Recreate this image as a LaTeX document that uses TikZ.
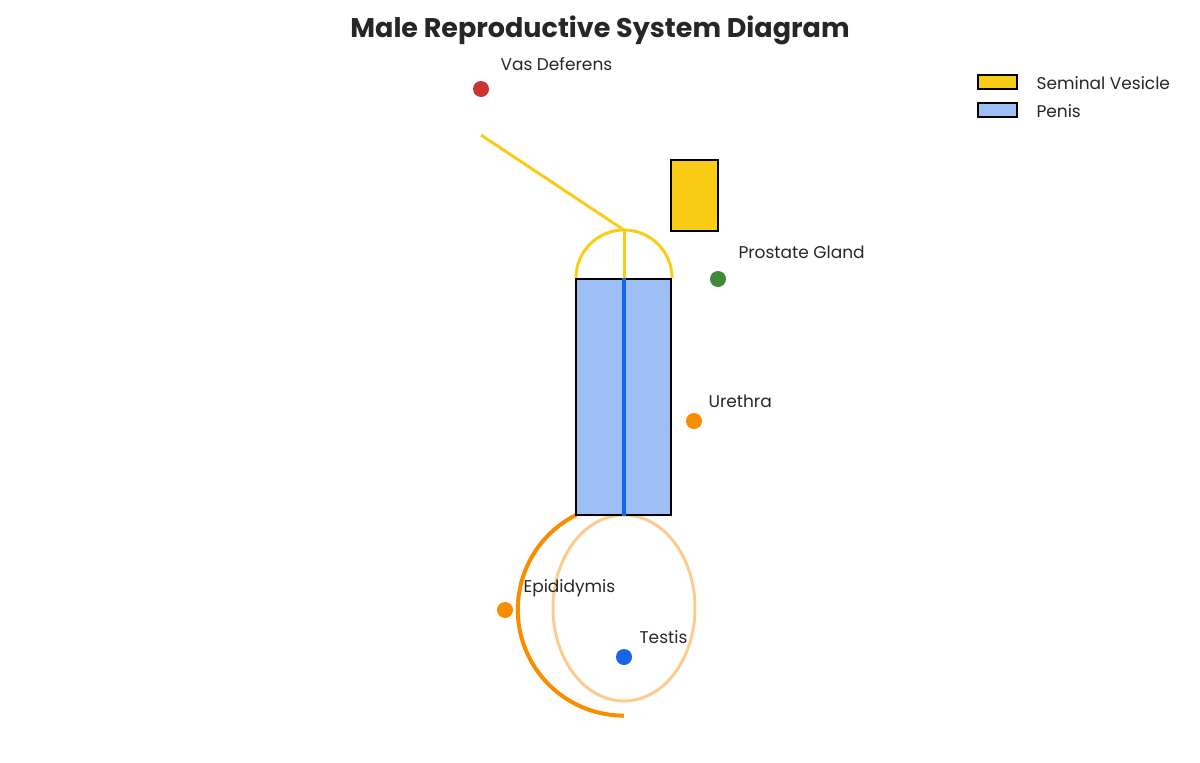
\documentclass[tikz,border=0pt]{standalone}
\usetikzlibrary{shapes.geometric}
\usepackage{fontspec}
\setmainfont{Poppins}
\begin{document}
\begin{tikzpicture}[x=1pt,y=-1pt,
  lbl/.style={anchor=base west,font=\fontsize{17}{20}\selectfont,text=black!85},
  dot/.style={circle,inner sep=0pt,minimum size=16pt},
  box/.style={draw=black,line width=1.6pt}]
\definecolor{yel}{HTML}{F9CD16}
\definecolor{pblue}{HTML}{9DBFF5}
\definecolor{dblue}{HTML}{1565E6}
\definecolor{org}{HTML}{FB8C00}
\definecolor{lorg}{HTML}{FDCB8F}
\definecolor{grn}{HTML}{43893A}
\definecolor{red1}{HTML}{CC3333}
\useasboundingbox (0,0) rectangle (1200,763);
\node[font=\bfseries\fontsize{27}{32}\selectfont,text=black!85] (title) at (600,30) {Male Reproductive System Diagram};
% testis
\node[draw=lorg,line width=3pt,ellipse,minimum width=142pt,minimum height=186pt,inner sep=0pt] (testisE) at (624,608) {};
% epididymis arc
\coordinate (epiS) at (576,515);
\draw[org,line width=4pt] (epiS) arc[start angle=243.2,end angle=90,radius=106];
% vas deferens
\coordinate (vasS) at (481,135);
\coordinate (junc) at (624,230);
\draw[yel,line width=3pt] (vasS) -- (junc);
\draw[yel,line width=3pt] (576,278) arc[start angle=180,end angle=360,radius=48];
\draw[yel,line width=3pt] (junc) -- (624,278);
% seminal vesicle
\node[box,fill=yel,minimum width=47pt,minimum height=71pt,inner sep=0pt] (sv) at (694.5,195.5) {};
% penis
\node[box,fill=pblue,minimum width=95pt,minimum height=236pt,inner sep=0pt] (penis) at (623.5,397) {};
\draw[dblue,line width=4pt] (penis.north) -- (penis.south);
% dots and labels
\node[dot,fill=red1] (vd) at (481,89) {};
\node[lbl] (vdl) at (497,70) {Vas Deferens};
\node[dot,fill=grn] (pg) at (718,279) {};
\node[lbl] (pgl) at (735,258) {Prostate Gland};
\node[dot,fill=org] (ur) at (694,421) {};
\node[lbl] (url) at (705,407) {Urethra};
\node[dot,fill=org] (ep) at (505,610) {};
\node[lbl] (epl) at (520,592) {Epididymis};
\node[dot,fill=dblue] (te) at (624,657) {};
\node[lbl] (tel) at (636,643) {Testis};
% legend
\node[box,fill=yel,minimum width=39pt,minimum height=14pt,inner sep=0pt] (lg1) at (997.5,82) {};
\node[lbl] (lg1t) at (1033,89) {Seminal Vesicle};
\node[box,fill=pblue,minimum width=39pt,minimum height=14pt,inner sep=0pt] (lg2) at (997.5,110) {};
\node[lbl] (lg2t) at (1033,117) {Penis};
\end{tikzpicture}
\end{document}
